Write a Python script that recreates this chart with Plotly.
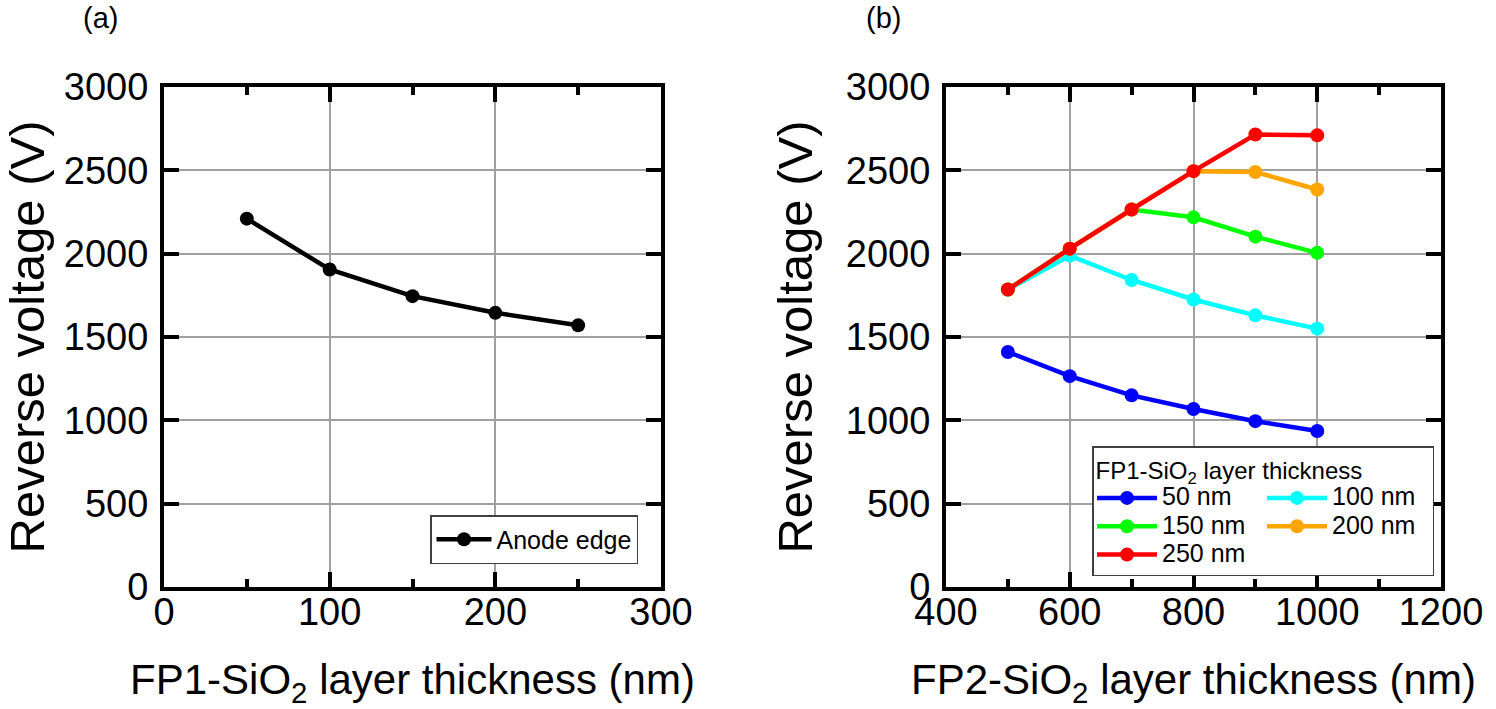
import plotly.graph_objects as go

# ---- data ----
fp1_thickness = [50, 100, 150, 200, 250]
anode_edge_v = [2210, 1905, 1745, 1645, 1570]

fp2_thickness = [500, 600, 700, 800, 900, 1000]
v_50nm = [1410, 1265, 1150, 1068, 995, 936]
v_100nm = [1785, 1988, 1842, 1725, 1630, 1550]
v_150nm = [1785, 2030, 2265, 2218, 2102, 2005]
v_200nm = [1785, 2030, 2265, 2495, 2490, 2385]
v_250nm = [1785, 2030, 2265, 2495, 2715, 2710]

series_values = [v_50nm, v_100nm, v_150nm, v_200nm, v_250nm]
series_labels = ["50 nm", "100 nm", "150 nm", "200 nm", "250 nm"]
series_colors = ["#0000FF", "#00FFFF", "#00FF00", "#FFA500", "#FF0000"]
series_groups = ["c1", "c2", "c1", "c2", "c1"]

FONT = "Liberation Sans, Arial, sans-serif"
W, H = 1496, 709
LEG_TXT = '<span style="font-size:25px">{}</span>'

fig = go.Figure()

fig.add_trace(go.Scatter(
    x=fp1_thickness, y=anode_edge_v, mode="lines+markers",
    name="Anode edge", line=dict(color="black", width=4.5),
    marker=dict(size=14, color="black"),
    xaxis="x", yaxis="y", legend="legend",
))

for vals, lab, col, grp in zip(series_values, series_labels, series_colors, series_groups):
    fig.add_trace(go.Scatter(
        x=fp2_thickness, y=vals, mode="lines+markers", name=LEG_TXT.format(lab),
        line=dict(color=col, width=4.5), marker=dict(size=14, color=col),
        legendgroup=grp, xaxis="x2", yaxis="y2", legend="legend2",
    ))

ydom = [(H - 587) / H, (H - 87) / H]

common_axis = dict(
    showline=True, linecolor="black", linewidth=4, mirror="ticks",
    ticks="inside", ticklen=15, tickwidth=4, tickcolor="black",
    showgrid=True, gridcolor="#A0A0A0", gridwidth=1.5,
    zeroline=False, tickfont=dict(family=FONT, size=38, color="black"),
    automargin=False,
)
xminor = dict(ticks="inside", ticklen=8, tickwidth=4, tickcolor="black", showgrid=False)

xtitle_font = dict(family=FONT, size=42, color="black")
ytitle_font = dict(family=FONT, size=49, color="black")
leg_font = dict(family=FONT, size=25, color="black")

fig.update_layout(
    width=W, height=H, margin=dict(l=0, r=0, t=0, b=0, autoexpand=False),
    paper_bgcolor="white", plot_bgcolor="white",
    font=dict(family=FONT, color="black"),
    xaxis=dict(domain=[164 / W, 661 / W], range=[0, 300], dtick=100,
               minor=dict(dtick=50, **xminor), ticklabelstandoff=-12,
               title=dict(text="FP1-SiO<sub>2</sub> layer thickness (nm)", font=xtitle_font, standoff=42),
               anchor="y", **common_axis),
    yaxis=dict(domain=ydom, range=[0, 3000], dtick=500, anchor="x", ticklabelstandoff=4,
               title=dict(text="Reverse voltage (V)", font=ytitle_font, standoff=19),
               **common_axis),
    xaxis2=dict(domain=[946 / W, 1441 / W], range=[400, 1200], dtick=200,
                minor=dict(dtick=100, **xminor), ticklabelstandoff=-12,
                title=dict(text="FP2-SiO<sub>2</sub> layer thickness (nm)", font=xtitle_font, standoff=42),
                anchor="y2", **common_axis),
    yaxis2=dict(domain=ydom, range=[0, 3000], dtick=500, anchor="x2", ticklabelstandoff=4,
                title=dict(text="Reverse voltage (V)", font=ytitle_font, standoff=19),
                **common_axis),
    legend=dict(x=430 / W, y=(H - 515) / H, xanchor="left", yanchor="top",
                bgcolor="white", bordercolor="#404040", borderwidth=1.5,
                itemwidth=55, font=leg_font),
    legend2=dict(x=1092 / W, y=(H - 446) / H, xanchor="left", yanchor="top",
                 orientation="h", traceorder="grouped", tracegroupgap=10,
                 entrywidth=95, entrywidthmode="pixels",
                 bgcolor="white", bordercolor="#404040", borderwidth=1.5,
                 itemwidth=60,
                 title=dict(text="FP1-SiO<sub>2</sub> layer thickness", side="top",
                            font=dict(family=FONT, size=24, color="black")),
                 font=dict(family=FONT, size=19.5, color="black")),
    showlegend=True,
    annotations=[
        dict(text="(a)", x=100 / W, y=(H - 18) / H, xref="paper", yref="paper",
             xanchor="center", yanchor="middle",
             showarrow=False, font=dict(family=FONT, size=29, color="black")),
        dict(text="(b)", x=883 / W, y=(H - 18) / H, xref="paper", yref="paper",
             xanchor="center", yanchor="middle",
             showarrow=False, font=dict(family=FONT, size=29, color="black")),
    ],
)

fig.write_html("out.html")
